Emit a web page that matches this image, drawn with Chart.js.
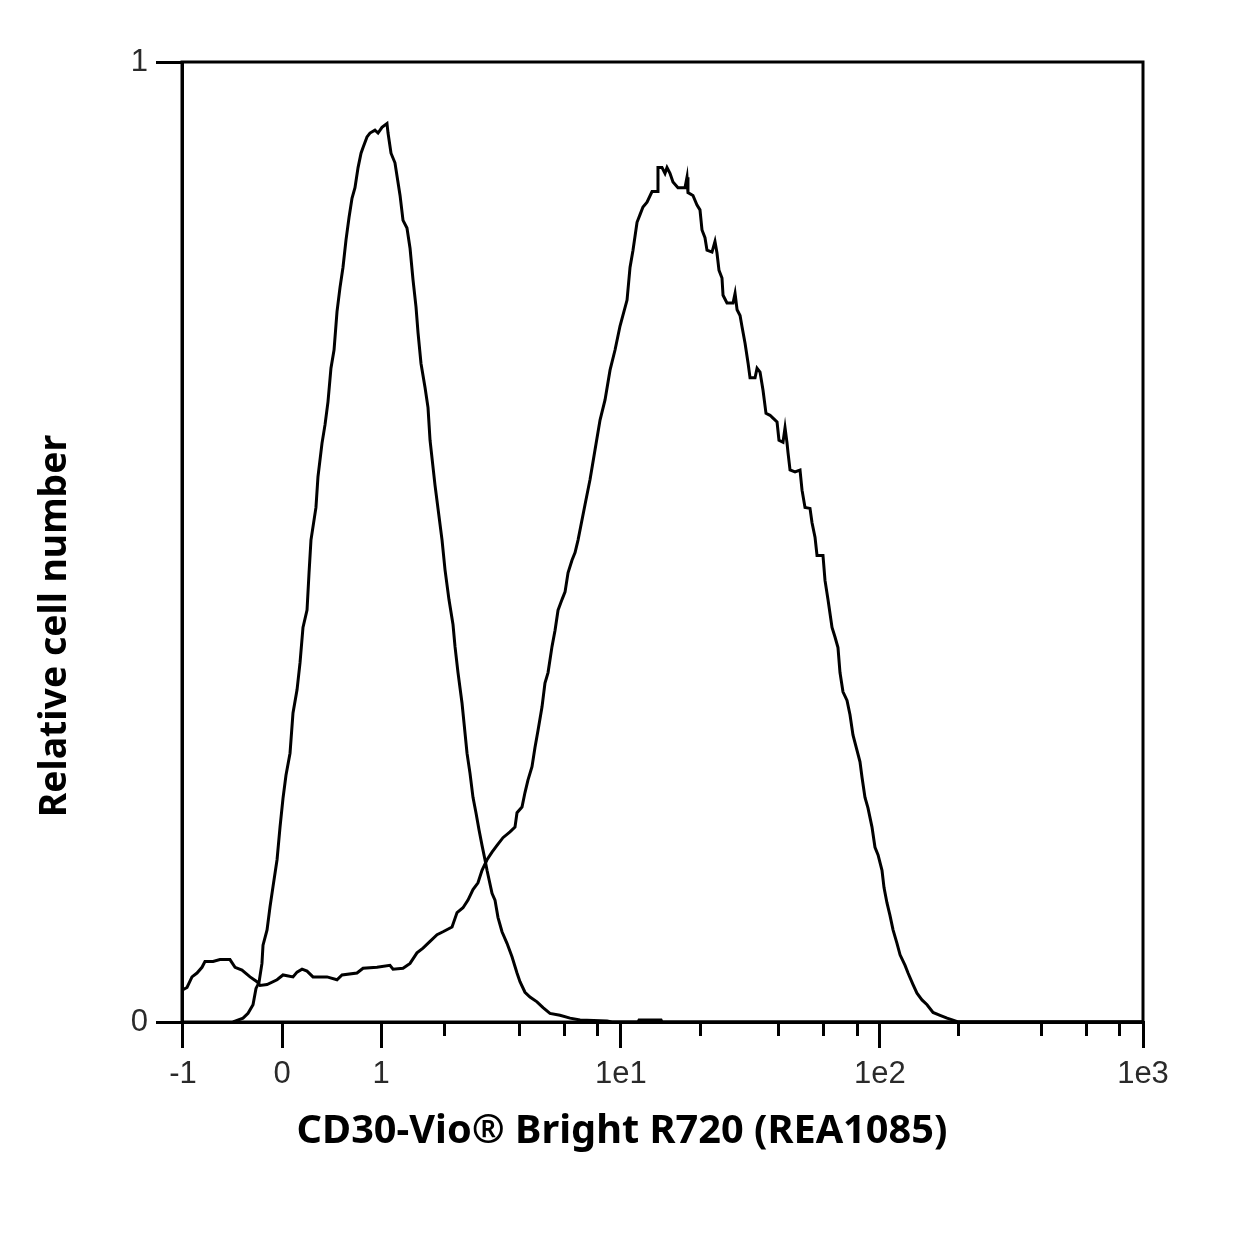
<!DOCTYPE html>
<html><head><meta charset="utf-8">
<script src="https://cdn.jsdelivr.net/npm/chart.js@4"></script>
<style>html,body{margin:0;padding:0;background:#fff;}#wrap{width:1250px;height:1250px;}</style>
</head><body><div id="wrap"><canvas id="c" width="1250" height="1250"></canvas></div>
<script>
// Channel positions (0..1000 display channels of the biexponential axis) and relative counts
const negChannel = [53.1,63.5,68.7,73.9,77.0,80.1,83.2,84.3,88.5,91.6,94.7,98.9,102.0,105.1,108.2,112.4,115.5,119.7,122.8,125.9,130.1,132.2,134.2,139.4,141.5,145.7,148.8,151.9,155.0,158.2,161.3,164.4,167.5,170.7,173.8,176.9,180.0,183.2,186.3,188.4,192.5,195.6,200.8,204.0,208.1,213.3,214.4,217.5,221.6,226.9,230.0,234.1,237.3,240.4,243.5,245.6,248.7,252.9,256.0,258.1,263.3,270.6,273.7,277.8,282.0,284.1,287.2,291.4,293.5,296.6,299.7,302.8,305.9,309.1,312.2,315.3,317.4,322.6,325.7,328.8,333.0,338.2,343.4,348.6,351.7,356.9,362.1,369.4,375.7,382.9,393.3,403.8,414.2,442.3,447.5,474.5,475.6,498.5,499.5,1000];
const negCount = [0,0.004,0.009,0.018,0.035,0.041,0.061,0.080,0.096,0.120,0.141,0.169,0.203,0.233,0.257,0.280,0.322,0.346,0.374,0.411,0.429,0.468,0.502,0.536,0.568,0.603,0.622,0.646,0.681,0.700,0.740,0.765,0.786,0.815,0.838,0.858,0.869,0.890,0.905,0.911,0.922,0.926,0.929,0.926,0.932,0.936,0.926,0.905,0.895,0.861,0.835,0.827,0.806,0.773,0.745,0.718,0.686,0.661,0.640,0.606,0.559,0.502,0.471,0.440,0.414,0.391,0.364,0.332,0.311,0.280,0.259,0.234,0.218,0.200,0.184,0.169,0.158,0.134,0.127,0.109,0.094,0.082,0.068,0.051,0.042,0.031,0.026,0.021,0.015,0.009,0.007,0.004,0.002,0.001,0,0,0.002,0.002,0,0];

const posChannel = [0,0,5.2,10.4,15.6,20.8,23.9,32.3,39.5,49.9,55.2,62.4,70.8,78.0,81.2,88.5,98.9,105.1,115.5,119.7,124.9,130.1,136.3,150.9,161.3,166.5,182.1,188.4,202.9,216.4,219.6,230.0,237.3,244.5,250.8,258.1,265.4,271.6,281.0,286.2,292.4,297.6,302.8,308.0,312.2,317.4,322.6,327.8,334.0,341.3,346.5,348.6,353.8,356.9,360.0,364.2,367.3,370.5,374.6,377.7,380.9,385.0,388.2,391.3,395.4,398.6,401.7,405.8,409.0,412.1,419.4,424.6,429.8,435.0,440.2,445.4,450.6,455.8,463.1,466.2,469.3,473.5,476.6,479.7,483.9,489.1,494.3,495.3,499.5,502.6,504.7,507.8,510.9,516.1,523.4,525.5,526.5,531.7,535.9,539.0,541.1,544.2,546.3,551.5,554.6,556.7,558.8,561.9,563.0,567.1,573.4,575.5,577.6,580.7,582.8,585.9,589.1,591.1,596.3,598.4,601.5,604.6,607.7,611.9,615.0,619.2,621.2,625.4,627.5,629.6,630.6,632.7,637.9,643.1,645.2,648.3,653.5,655.6,658.7,660.8,667.0,669.1,672.2,676.4,679.5,682.6,684.7,687.8,692.0,695.1,698.2,702.4,705.5,707.6,710.7,713.8,718.0,721.1,724.3,728.4,730.5,733.6,736.7,739.9,744.0,747.2,752.4,755.5,760.7,764.8,770.0,775.3,781.5,788.8,796.1,802.3,807.5,1000];
const posCount = [0,0.033,0.036,0.047,0.051,0.057,0.063,0.063,0.065,0.065,0.057,0.054,0.047,0.042,0.038,0.039,0.044,0.049,0.047,0.052,0.055,0.053,0.047,0.047,0.044,0.049,0.051,0.056,0.057,0.059,0.055,0.056,0.061,0.072,0.077,0.084,0.091,0.094,0.099,0.114,0.119,0.127,0.138,0.145,0.158,0.169,0.177,0.184,0.192,0.198,0.203,0.218,0.224,0.239,0.252,0.266,0.286,0.304,0.328,0.353,0.364,0.391,0.408,0.429,0.440,0.448,0.468,0.481,0.489,0.502,0.539,0.565,0.596,0.627,0.648,0.679,0.700,0.725,0.752,0.786,0.804,0.833,0.841,0.849,0.854,0.865,0.865,0.890,0.890,0.884,0.890,0.884,0.875,0.869,0.869,0.880,0.864,0.861,0.851,0.846,0.825,0.817,0.804,0.802,0.813,0.801,0.783,0.775,0.757,0.749,0.749,0.759,0.742,0.736,0.724,0.707,0.686,0.671,0.671,0.681,0.677,0.658,0.634,0.632,0.629,0.625,0.606,0.604,0.619,0.603,0.593,0.575,0.573,0.575,0.554,0.536,0.535,0.520,0.505,0.486,0.486,0.460,0.440,0.411,0.401,0.390,0.364,0.344,0.335,0.320,0.299,0.283,0.271,0.255,0.234,0.223,0.203,0.182,0.174,0.158,0.140,0.124,0.111,0.096,0.082,0.070,0.059,0.051,0.039,0.030,0.023,0.018,0.010,0.007,0.004,0.002,0,0];

const majorTickChannels = [1, 104.1, 207.1, 456.8, 726.3, 1000];
const majorTickLabels = ['-1', '0', '1', '1e1', '1e2', '1e3'];
const minorTickChannels = [272.6, 350.7, 397.5, 431.8, 539.0, 620.2, 667.5, 702.4, 808.0, 893.9, 940.7, 975.0];
const yTickValues = [0, 1];
const yTickLabels = ['0', '1'];
const xTitle = 'CD30-Vio\u00AE Bright R720 (REA1085)';
const yTitle = 'Relative cell number';

function toPoints(xs, ys) { return xs.map((x, i) => ({x: x, y: ys[i]})); }

const tickFont = {family: '"Liberation Sans", Arial, sans-serif', size: 31};
const tickColor = '#2a2a2a';

const decorPlugin = {
  id: 'decor',
  afterDraw(chart) {
    const ctx = chart.ctx;
    const a = chart.chartArea;
    const xs = chart.scales.x;
    ctx.save();
    ctx.strokeStyle = '#000';
    ctx.lineWidth = 3;
    ctx.strokeRect(a.left, a.top, a.right - a.left, a.bottom - a.top);
    ctx.beginPath();
    minorTickChannels.forEach(v => {
      const px = Math.round(xs.getPixelForValue(v)) + 0.5;
      ctx.moveTo(px, a.bottom);
      ctx.lineTo(px, a.bottom + 14);
    });
    ctx.stroke();
    function fitFont(text, target, maxSize) {
      let size = maxSize;
      ctx.font = 'bold ' + size + 'px "Noto Sans", "Open Sans", sans-serif';
      const w = ctx.measureText(text).width;
      size = Math.min(maxSize, size * target / w);
      ctx.font = 'bold ' + size.toFixed(1) + 'px "Noto Sans", "Open Sans", sans-serif';
    }
    ctx.fillStyle = '#000';
    ctx.textAlign = 'center';
    ctx.textBaseline = 'middle';
    fitFont(xTitle, 651, 40);
    ctx.fillText(xTitle, 622, 1132);
    ctx.save();
    ctx.translate(55, 626);
    ctx.rotate(-Math.PI / 2);
    fitFont(yTitle, 383, 40);
    ctx.fillText(yTitle, 0, 0);
    ctx.restore();
    ctx.restore();
  }
};

new Chart(document.getElementById('c'), {
  type: 'scatter',
  data: {
    datasets: [
      {label: 'Control', data: toPoints(negChannel, negCount), showLine: true, borderColor: '#000', borderWidth: 3, pointRadius: 0, tension: 0, fill: false},
      {label: 'CD30', data: toPoints(posChannel, posCount), showLine: true, borderColor: '#000', borderWidth: 3, pointRadius: 0, tension: 0, fill: false}
    ]
  },
  options: {
    responsive: false,
    animation: false,
    devicePixelRatio: 1,
    layout: {padding: {top: 62, right: 107, left: 0, bottom: 0}},
    plugins: {legend: {display: false}, tooltip: {enabled: false}},
    scales: {
      x: {
        type: 'linear', min: 0, max: 1000,
        afterBuildTicks: s => { s.ticks = majorTickChannels.map(v => ({value: v})); },
        afterFit: s => { s.height = 228; },
        ticks: {autoSkip: false, maxRotation: 0, minRotation: 0, padding: 8, font: tickFont, color: tickColor,
          callback: (v, i) => majorTickLabels[i]},
        grid: {drawOnChartArea: false, drawTicks: true, tickLength: 26, color: '#000', lineWidth: 3},
        border: {display: true, color: '#000', width: 3}
      },
      y: {
        type: 'linear', min: 0, max: 1,
        afterBuildTicks: s => { s.ticks = yTickValues.map(v => ({value: v})); },
        afterFit: s => { s.width = 182; },
        ticks: {padding: 8, font: tickFont, color: tickColor, callback: (v, i) => yTickLabels[i]},
        grid: {drawOnChartArea: false, drawTicks: true, tickLength: 26, color: '#000', lineWidth: 3},
        border: {display: true, color: '#000', width: 3}
      }
    }
  },
  plugins: [decorPlugin]
});
</script>
</body></html>
